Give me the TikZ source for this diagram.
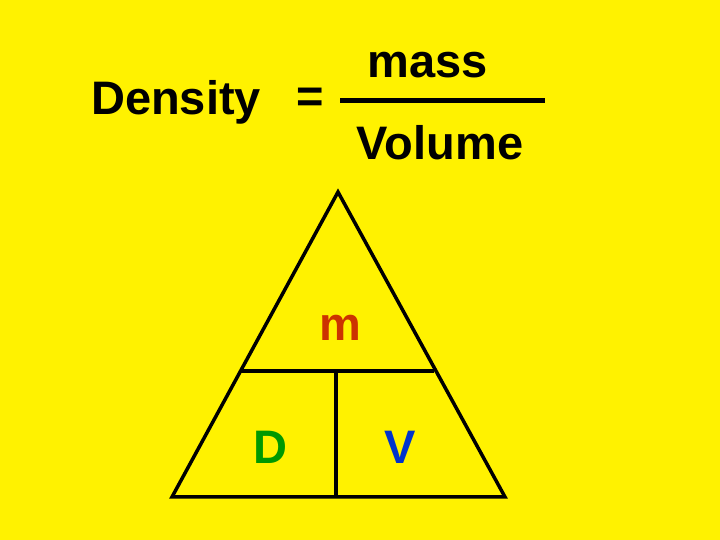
\documentclass[tikz,border=0pt]{standalone}
\usepackage{fontspec}
\setmainfont{Liberation Sans}
\begin{document}
\begin{tikzpicture}[x=1pt,y=1pt,
  txt/.style={font=\fontsize{47}{50}\selectfont\bfseries, inner sep=0pt},
  ln/.style={line width=3.5pt}]
\fill[yellow] (0,0) rectangle (720,540);
\useasboundingbox (0,0) rectangle (720,540);
\node[txt, anchor=west] (dens) at (91,438) {Density};
\node[txt] (eq) at (310,440) {=};
\node[txt] (mass) at (428,475) {mass};
\node[txt] (vol) at (440,397) {Volume};
\coordinate (fl) at (340,439);
\coordinate (fr) at (545,439);
\draw[line width=5pt] (fl) -- (fr);
\coordinate (A) at (338,348);
\coordinate (B) at (172,43);
\coordinate (C) at (505,43);
\draw[ln, line join=miter] (A) -- (B) -- (C) -- cycle;
\coordinate (hl) at (241,169);
\coordinate (hr) at (434,169);
\draw[ln] (hl) -- (hr);
\coordinate (vt) at (336,169);
\coordinate (vb) at (336,43);
\draw[ln] (vt) -- (vb);
\node[txt, text={rgb,255:red,204;green,51;blue,0}] (m) at (340,212) {m};
\node[txt, text={rgb,255:red,0;green,153;blue,0}] (D) at (270,93) {D};
\node[txt, text={rgb,255:red,0;green,51;blue,204}] (V) at (400,93) {V};
\end{tikzpicture}
\end{document}
